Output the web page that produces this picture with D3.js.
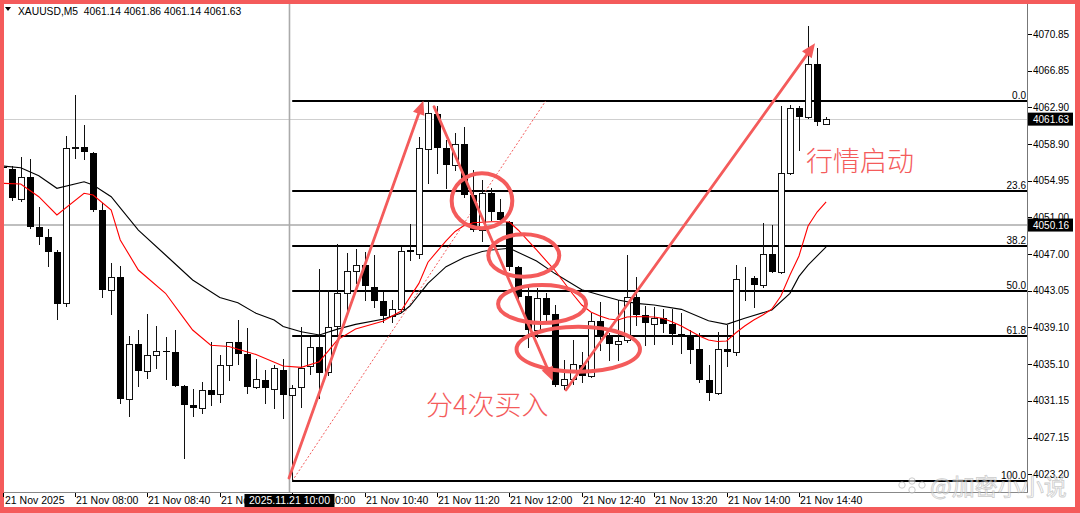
<!DOCTYPE html>
<html>
<head>
<meta charset="utf-8">
<script src="https://cdn.jsdelivr.net/npm/d3@7"></script>
<style>
  body { margin: 0; background: #fff; }
  svg { display: block; }
</style>
</head>
<body>
<div id="chart"></div>
<script>
// XAUUSD M5, first candle 07:20 (index 0), one candle every 5 minutes
const opens = [
  4056.40, 4056.23, 4052.98, 4055.36, 4049.98, 4048.83, 4047.27, 4041.69, 4058.54, 4058.65,
  4058.00, 4051.79, 4043.13, 4044.50, 4031.32, 4037.24, 4034.39, 4036.05, 4036.55, 4036.44,
  4032.76, 4030.67, 4030.31, 4032.29, 4031.83, 4034.97, 4037.53, 4036.20, 4032.65, 4033.38,
  4032.37, 4034.46, 4031.72, 4032.59, 4034.89, 4036.99, 4034.25, 4039.26, 4042.77, 4045.22,
  4045.83, 4043.49, 4041.97, 4040.31, 4041.03, 4047.46, 4047.02, 4058.36, 4062.19, 4058.54,
  4056.66, 4058.90, 4053.41, 4049.62, 4053.60, 4051.61, 4050.52, 4045.65, 4042.47, 4038.79,
  4042.23, 4040.49, 4032.84, 4033.45, 4035.00, 4033.81, 4039.80, 4038.18, 4037.24, 4037.71,
  4042.40, 4040.42, 4039.44, 4040.06, 4039.44, 4038.36, 4038.18, 4036.70, 4033.38, 4032.00,
  4036.70, 4036.44, 4044.39, 4044.39, 4043.67, 4047.00, 4045.11, 4055.83, 4062.80, 4061.83,
  4067.60, 4061.14,
];
const highs = [
  4056.70, 4056.55, 4057.50, 4057.28, 4052.15, 4049.73, 4047.45, 4059.80, 4064.24, 4061.00,
  4058.05, 4052.58, 4046.02, 4045.72, 4038.18, 4038.79, 4040.53, 4039.26, 4038.07, 4038.79,
  4032.80, 4032.40, 4033.13, 4037.46, 4036.09, 4037.53, 4039.88, 4038.98, 4035.65, 4034.46,
  4035.00, 4035.62, 4032.80, 4039.15, 4038.07, 4045.37, 4043.13, 4048.07, 4047.17, 4047.53,
  4047.27, 4046.92, 4042.94, 4042.00, 4047.81, 4050.27, 4059.66, 4063.59, 4063.05, 4059.37,
  4060.10, 4060.81, 4056.12, 4055.04, 4054.14, 4052.95, 4050.60, 4045.70, 4043.56, 4043.31,
  4042.83, 4041.50, 4035.54, 4037.71, 4036.44, 4040.60, 4041.86, 4038.50, 4042.04, 4046.92,
  4044.57, 4041.39, 4041.32, 4041.07, 4041.03, 4040.60, 4038.80, 4038.43, 4035.00, 4038.61,
  4039.33, 4045.83, 4045.65, 4044.60, 4050.41, 4050.16, 4063.00, 4063.16, 4063.05, 4071.72,
  4069.37, 4061.86,
];
const lows = [
  4056.00, 4052.87, 4052.80, 4049.81, 4048.07, 4045.72, 4039.98, 4041.43, 4057.45, 4057.28,
  4051.71, 4042.40, 4040.49, 4030.92, 4029.48, 4032.73, 4033.56, 4034.65, 4033.45, 4032.70,
  4024.90, 4029.48, 4029.77, 4030.67, 4031.03, 4033.38, 4035.08, 4032.00, 4032.48, 4030.92,
  4030.31, 4029.23, 4022.44, 4030.50, 4034.00, 4031.43, 4033.90, 4038.25, 4040.96, 4043.85,
  4042.04, 4041.32, 4039.69, 4039.69, 4040.77, 4046.37, 4046.56, 4054.68, 4055.76, 4054.14,
  4056.10, 4053.20, 4049.50, 4048.46, 4050.71, 4050.38, 4045.30, 4042.04, 4036.99, 4038.07,
  4039.88, 4032.76, 4032.37, 4033.00, 4033.20, 4033.70, 4036.63, 4035.54, 4035.54, 4037.53,
  4039.33, 4037.17, 4037.25, 4038.61, 4037.25, 4036.27, 4035.19, 4033.20, 4031.21, 4031.90,
  4034.89, 4036.09, 4042.04, 4041.32, 4043.49, 4045.10, 4044.93, 4055.70, 4058.29, 4061.75,
  4061.00, 4061.14,
];
const closes = [
  4056.30, 4053.09, 4055.40, 4049.98, 4048.90, 4047.27, 4041.58, 4058.54, 4058.60, 4058.04,
  4051.79, 4043.13, 4044.50, 4031.32, 4037.24, 4034.39, 4036.05, 4036.55, 4036.50, 4032.76,
  4030.67, 4030.31, 4032.29, 4031.72, 4034.97, 4037.46, 4036.20, 4032.65, 4033.45, 4032.48,
  4034.68, 4031.72, 4032.48, 4034.65, 4036.99, 4034.17, 4039.15, 4042.77, 4045.18, 4045.80,
  4043.56, 4041.97, 4040.31, 4041.03, 4047.38, 4047.27, 4058.47, 4062.26, 4058.47, 4056.66,
  4058.90, 4053.41, 4049.62, 4053.60, 4051.61, 4050.71, 4045.65, 4042.40, 4038.79, 4042.23,
  4040.42, 4032.80, 4033.45, 4035.11, 4033.81, 4039.80, 4038.18, 4037.28, 4037.63, 4042.40,
  4040.42, 4039.52, 4040.06, 4039.44, 4038.36, 4038.18, 4036.63, 4033.38, 4032.00, 4036.70,
  4036.44, 4044.28, 4044.40, 4043.67, 4047.00, 4045.11, 4055.83, 4062.80, 4061.83, 4067.57,
  4061.35, 4061.63,
];

// moving averages at some candle indices
const fastIdx = [0, 2, 4, 6, 9, 10, 12, 13, 15, 18, 20, 21, 23, 25, 28, 31, 33, 35, 37, 39, 42, 44, 46, 47, 49, 50, 51, 52, 54,
  55, 56, 57, 58, 59, 60, 61, 62, 63, 64, 65, 66, 67, 68, 69, 70, 71, 72, 73, 74, 75, 76, 77, 78, 79, 80, 81, 82, 83, 84, 85,
  86, 87, 88, 89, 90, 91];
const fastVal = [4054.68, 4054.60, 4053.23, 4051.25, 4053.60, 4053.41, 4051.79, 4048.54, 4045.29, 4042.77, 4040.11, 4038.79,
  4037.14, 4037.00, 4036.14, 4034.89, 4034.75, 4035.36, 4037.73, 4038.90, 4039.75, 4040.82, 4043.84, 4046.14, 4048.45,
  4049.47, 4050.10, 4050.41, 4050.52, 4050.52, 4050.49, 4049.60, 4048.54, 4047.46, 4046.37, 4045.29, 4043.99, 4042.69,
  4041.50, 4040.74, 4040.31, 4039.98, 4039.88, 4040.20, 4040.25, 4040.23, 4040.20, 4040.04, 4039.66, 4039.23, 4038.69,
  4038.14, 4037.71, 4037.55, 4037.60, 4038.47, 4039.23, 4039.88, 4040.42, 4041.07, 4042.47, 4044.75, 4046.81, 4050.06,
  4051.57, 4052.66];
const slowIdx = [0, 2, 4, 6, 9, 10, 12, 13, 15, 18, 21, 24, 26, 28, 30, 31, 33, 35, 37, 39, 42, 44, 45, 47, 49, 51, 53, 54, 56,
  57, 59, 61, 64, 66, 68, 70, 72, 75, 78, 80, 82, 85, 87, 88, 89, 91];
const slowVal = [4056.55, 4056.37, 4055.50, 4054.14, 4054.85, 4054.50, 4053.23, 4052.01, 4049.62, 4046.92, 4044.21, 4042.31,
  4041.75, 4040.60, 4039.88, 4039.17, 4038.61, 4038.25, 4038.89, 4039.40, 4039.95, 4040.60, 4041.39, 4043.85, 4045.65,
  4046.65, 4047.30, 4047.46, 4047.64, 4047.19, 4046.27, 4044.93, 4043.15, 4042.58, 4042.04, 4041.68, 4041.50, 4041.03,
  4039.80, 4039.41, 4040.06, 4040.96, 4042.77, 4044.60, 4045.83, 4047.80];

const priceTicks = [4070.85, 4066.85, 4062.90, 4058.90, 4054.95, 4051.00, 4047.00, 4043.05, 4039.10, 4035.10, 4031.15,
  4027.15, 4023.20];
const timeTickIdx = [0, 8, 16, 24, 32, 40, 48, 56, 64, 72, 80, 88];
const timeTickLabels = ['21 Nov 2025', '21 Nov 08:00', '21 Nov 08:40', '21 Nov 09:20', '21 Nov 10:00', '21 Nov 10:40',
  '21 Nov 11:20', '21 Nov 12:00', '21 Nov 12:40', '21 Nov 13:20', '21 Nov 14:00', '21 Nov 14:40'];

const fibLevels = [0, 23.6, 38.2, 50, 61.8, 100];
const fibHigh = 4063.59;
const fibLow = 4022.44;
const fibStartIdx = 32;
const fibEndIdx = 60;

const bidPrice = 4061.63;
const crossPrice = 4050.16;
const crossIdx = 31.7;
const crossLabel = '2025.11.21 10:00';
const header = 'XAUUSD,M5  4061.14 4061.86 4061.14 4061.63';

// hand drawn annotations, in candle index / price
const arrows = [
  { from: [31.65, 4022.77], to: [46.49, 4063.63] },
  { from: [47.67, 4062.98], to: [60.8, 4033.27] },
  { from: [62.25, 4032.3], to: [89.77, 4069.84] },
];
const ellipses = [
  { i: 52.97, p: 4052.79, ri: 3.35, rp: 2.98 },
  { i: 57.59, p: 4046.86, ri: 3.92, rp: 2.3 },
  { i: 59.61, p: 4041.61, ri: 4.86, rp: 2.06 },
  { i: 63.61, p: 4036.71, ri: 6.82, rp: 2.44 },
];
const notes = [
  { text: '行情启动', i: 88.77, p: 4056.01 },
  { text: '分4次买入', i: 46.78, p: 4029.64 },
];

const W = 1080;
const H = 513;
const plot = { l: 4, r: 1028, t: 4, b: 493 };
const red = '#f45b5b';
const font = "'Liberation Sans', Arial, sans-serif";

const svg = d3
  .select('#chart')
  .append('svg')
  .attr('width', W)
  .attr('height', H)
  .attr('viewBox', [0, 0, W, H]);

// red frame round the screenshot
svg.append('rect').attr('width', W).attr('height', H).attr('fill', red);
svg.append('rect').attr('x', 4).attr('y', 4).attr('width', 1071).attr('height', 503).attr('fill', '#fff');

svg
  .append('clipPath')
  .attr('id', 'plotclip')
  .append('rect')
  .attr('x', plot.l)
  .attr('y', plot.t)
  .attr('width', plot.r - plot.l)
  .attr('height', plot.b - plot.t);

const x = d3.scaleLinear().domain([0, 91]).range([2.6, 826.15]);
const y = d3.scaleLinear().domain([4023.2, 4070.85]).range([474, 34]);
const px = (i) => Math.round(x(i));
const py = (v) => Math.round(y(v));

const g = svg.append('g').attr('clip-path', 'url(#plotclip)');

// bid line and crosshair
g.append('line')
  .attr('x1', plot.l).attr('x2', plot.r)
  .attr('y1', py(bidPrice) + 0.5).attr('y2', py(bidPrice) + 0.5)
  .attr('stroke', '#cfcfcf');
g.append('line')
  .attr('x1', plot.l).attr('x2', plot.r)
  .attr('y1', y(crossPrice)).attr('y2', y(crossPrice))
  .attr('stroke', '#aaa').attr('stroke-width', 1.6);
g.append('line')
  .attr('x1', x(crossIdx)).attr('x2', x(crossIdx))
  .attr('y1', plot.t).attr('y2', plot.b)
  .attr('stroke', '#aaa').attr('stroke-width', 1.6);

// fibonacci retracement
const fibPrice = (lv) => fibHigh - ((fibHigh - fibLow) * lv) / 100;
g.selectAll('.fib')
  .data(fibLevels)
  .join('line')
  .attr('class', 'fib')
  .attr('x1', x(fibStartIdx)).attr('x2', plot.r)
  .attr('y1', (d) => py(fibPrice(d))).attr('y2', (d) => py(fibPrice(d)))
  .attr('stroke', '#000').attr('stroke-width', 1.8);
g.selectAll('.fibtxt')
  .data(fibLevels)
  .join('text')
  .attr('class', 'fibtxt')
  .attr('x', plot.r - 2)
  .attr('y', (d) => py(fibPrice(d)) - 2.5)
  .attr('text-anchor', 'end')
  .style('font', `10px ${font}`)
  .text((d) => d.toFixed(1));
g.append('line')
  .attr('x1', x(fibStartIdx)).attr('y1', y(fibLow))
  .attr('x2', x(fibEndIdx)).attr('y2', y(fibHigh))
  .attr('stroke', red).attr('stroke-width', 1).attr('stroke-dasharray', '2,2');

// candles
const candles = d3.range(opens.length).map((i) => ({
  i, o: opens[i], h: highs[i], l: lows[i], c: closes[i],
}));
g.selectAll('.wick')
  .data(candles)
  .join('line')
  .attr('class', 'wick')
  .attr('x1', (d) => px(d.i) + 0.5).attr('x2', (d) => px(d.i) + 0.5)
  .attr('y1', (d) => py(d.h)).attr('y2', (d) => py(d.l) + 1)
  .attr('stroke', '#111');
g.selectAll('.bear')
  .data(candles.filter((d) => d.c < d.o))
  .join('rect')
  .attr('class', 'bear')
  .attr('x', (d) => px(d.i) - 3)
  .attr('y', (d) => py(d.o))
  .attr('width', 7)
  .attr('height', (d) => Math.max(1, py(d.c) - py(d.o)))
  .attr('fill', '#000');
g.selectAll('.bull')
  .data(candles.filter((d) => d.c >= d.o))
  .join('rect')
  .attr('class', 'bull')
  .attr('x', (d) => px(d.i) - 2.5)
  .attr('y', (d) => py(d.c) + 0.5)
  .attr('width', 6)
  .attr('height', (d) => Math.max(0, py(d.o) - py(d.c)))
  .attr('fill', '#fff')
  .attr('stroke', '#111');

// moving averages
const maLine = d3.line().x((d) => x(d[0])).y((d) => y(d[1]));
g.append('path')
  .attr('d', maLine(slowIdx.map((d, k) => [d, slowVal[k]])))
  .attr('fill', 'none').attr('stroke', '#000').attr('stroke-width', 1.1);
g.append('path')
  .attr('d', maLine(fastIdx.map((d, k) => [d, fastVal[k]])))
  .attr('fill', 'none').attr('stroke', '#f00').attr('stroke-width', 1.1);

// annotations
const ann = g.append('g');
ann.selectAll('ellipse')
  .data(ellipses)
  .join('ellipse')
  .attr('cx', (d) => x(d.i))
  .attr('cy', (d) => y(d.p))
  .attr('rx', (d) => x(d.i + d.ri) - x(d.i))
  .attr('ry', (d) => y(d.p - d.rp) - y(d.p))
  .attr('fill', 'none').attr('stroke', red).attr('stroke-width', 4);

arrows.forEach((a) => {
  const x0 = x(a.from[0]);
  const y0 = y(a.from[1]);
  const x1 = x(a.to[0]);
  const y1 = y(a.to[1]);
  const ang = Math.atan2(y1 - y0, x1 - x0);
  const len = 14;
  const wid = 6;
  const bx = x1 - len * Math.cos(ang);
  const by = y1 - len * Math.sin(ang);
  ann.append('line')
    .attr('x1', x0).attr('y1', y0)
    .attr('x2', x1 - 8 * Math.cos(ang)).attr('y2', y1 - 8 * Math.sin(ang))
    .attr('stroke', red).attr('stroke-width', 2.8).attr('stroke-linecap', 'round');
  ann.append('path')
    .attr('d', `M${x1},${y1}L${bx + wid * Math.sin(ang)},${by - wid * Math.cos(ang)}`
      + `L${bx - wid * Math.sin(ang)},${by + wid * Math.cos(ang)}Z`)
    .attr('fill', red);
});

ann.selectAll('.note')
  .data(notes)
  .join('text')
  .attr('class', 'note')
  .attr('x', (d) => x(d.i))
  .attr('y', (d) => y(d.p))
  .attr('fill', red)
  .style('font-family', "'Noto Sans CJK SC', sans-serif")
  .style('font-weight', 300)
  .style('font-size', '27px')
  .text((d) => d.text);

// chart borders
svg.append('line')
  .attr('x1', plot.r - 0.5).attr('x2', plot.r - 0.5)
  .attr('y1', plot.t).attr('y2', plot.b)
  .attr('stroke', '#777');
svg.append('line')
  .attr('x1', plot.l).attr('x2', plot.r)
  .attr('y1', plot.b - 0.5).attr('y2', plot.b - 0.5)
  .attr('stroke', '#888');

// price axis
const yAxis = svg.append('g');
yAxis.selectAll('line')
  .data(priceTicks)
  .join('line')
  .attr('x1', plot.r).attr('x2', plot.r + 4)
  .attr('y1', (d) => py(d) + 0.5).attr('y2', (d) => py(d) + 0.5)
  .attr('stroke', '#000');
yAxis.selectAll('text')
  .data(priceTicks)
  .join('text')
  .attr('x', plot.r + 5)
  .attr('y', (d) => y(d) + 3.5)
  .style('font', `10px ${font}`)
  .text((d) => d.toFixed(2));

// time axis
const xAxis = svg.append('g');
xAxis.selectAll('line')
  .data(timeTickIdx)
  .join('line')
  .attr('x1', (d) => px(d) + 0.5).attr('x2', (d) => px(d) + 0.5)
  .attr('y1', plot.b).attr('y2', plot.b + 4)
  .attr('stroke', '#000');
xAxis.selectAll('text')
  .data(timeTickIdx)
  .join('text')
  .attr('x', (d) => Math.max(5, px(d) + 1))
  .attr('y', 504)
  .style('font', `10.5px ${font}`)
  .text((d, k) => timeTickLabels[k]);

// value boxes
function valueBox(v) {
  const cy = y(v);
  svg.append('rect')
    .attr('x', plot.r).attr('y', cy - 6.5).attr('width', 45).attr('height', 13)
    .attr('fill', '#000');
  svg.append('text')
    .attr('x', plot.r + 5).attr('y', cy + 3.5)
    .attr('fill', '#fff')
    .style('font', `10px ${font}`)
    .text(v.toFixed(2));
}
valueBox(bidPrice);
valueBox(crossPrice);

const cx = x(crossIdx);
svg.append('rect')
  .attr('x', cx - 45).attr('y', 494).attr('width', 90).attr('height', 13)
  .attr('fill', '#000');
svg.append('text')
  .attr('x', cx).attr('y', 504)
  .attr('text-anchor', 'middle')
  .attr('fill', '#fff')
  .style('font', `10.5px ${font}`)
  .text(crossLabel);

// header
svg.append('path').attr('d', 'M5,7L11,7L8,11Z').attr('fill', '#000');
svg.append('text')
  .attr('x', 18).attr('y', 15)
  .attr('xml:space', 'preserve')
  .style('white-space', 'pre')
  .style('font', `10.3px ${font}`)
  .text(header);

// watermark
const wm = svg.append('g').attr('opacity', 0.6);
[[902, 485], [912, 481], [922, 485], [912, 490]].forEach((c) => {
  wm.append('circle').attr('cx', c[0]).attr('cy', c[1]).attr('r', 3.2)
    .attr('fill', '#fff').attr('stroke', '#aaa').attr('stroke-width', 1);
});
wm.append('text')
  .attr('x', 930).attr('y', 495)
  .attr('fill', '#fff').attr('stroke', '#aaa').attr('stroke-width', 0.8)
  .style('font-family', "'Noto Sans CJK SC', sans-serif")
  .style('font-size', '23px')
  .text('@加密小小说');
</script>
</body>
</html>
